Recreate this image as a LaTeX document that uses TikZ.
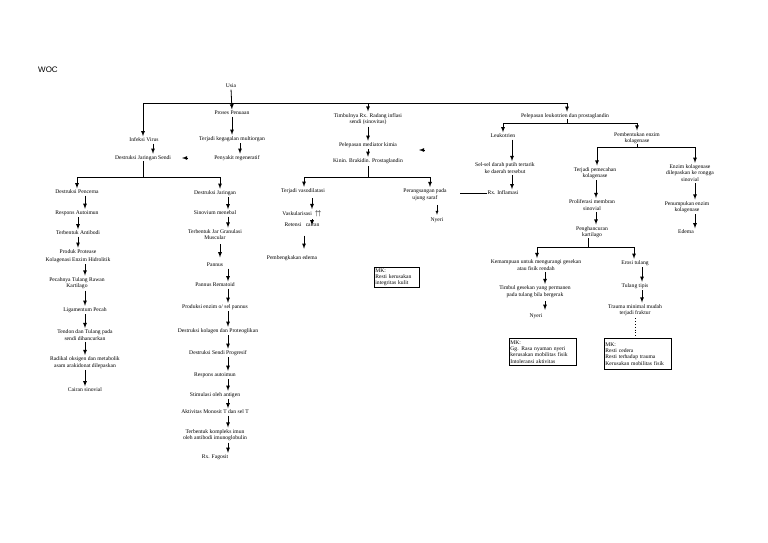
\documentclass[tikz,border=0pt]{standalone}
\usepackage{fontspec}
\setmainfont{Liberation Serif}
\setsansfont{Liberation Sans}
\usepackage{amssymb}
\usepackage{tikz}

\begin{document}
\begin{tikzpicture}[x=1pt,y=-1pt,
	lbl/.style={font=\fontsize{5.6}{6.5}\selectfont, align=center, inner sep=0.5pt},
	arr/.style={-latex, line width=0.8pt, shorten <=1pt, shorten >=1pt},
	bus/.style={line width=0.9pt},
	mkbox/.style={draw, line width=0.8pt, anchor=north west, align=left, inner sep=1pt, font=\fontsize{5.6}{6.4}\selectfont}]
			\fill[white] (0,0) rectangle (768,543);
			\useasboundingbox (0,0) rectangle (768,543);
			\node[font=\fontsize{8}{9}\selectfont\sffamily, anchor=west, inner sep=0] (woc) at (38,70) {WOC};
			% top
			\node[lbl] (usia) at (231,86) {Usia};
			\coordinate (busL) at (143,103);
			\coordinate (busR) at (567,103);
			\draw[bus] (busL) -- (busR);
			\node[lbl] (proses) at (232,113) {Proses Penuaan};
			\draw[arr] (usia.south) -- (proses.north);
			\node[lbl] (gagal) at (232,139) {Terjadi kegagalan multiorgan};
			\node[lbl] (degen) at (237,158) {Penyakit regeneratif};
			\node[lbl] (infeksi) at (144,140) {Infeksi Virus};
			\node[lbl] (dsendi) at (143,158) {Destruksi Jaringan Sendi};
			\coordinate (stubA) at (187,158);
			\coordinate (stubAend) at (182,158);
			\draw[-latex, line width=0.8pt] (stubA) -- (stubAend);
			\draw[arr, shorten <=0pt] (busL) -- (busL |- infeksi.north);
			\draw[arr] (proses.south) -- (gagal.north);
			\draw[arr] ([xshift=8pt]gagal.south) -- ([xshift=3pt]degen.north);
			\draw[arr] ([xshift=9pt]infeksi.south) -- ([xshift=10pt]dsendi.north);
			% kolom kiri
			\coordinate (busK1) at (77,177);
			\coordinate (busK2) at (220,177);
			\coordinate (c1a) at (78,0);
			\coordinate (c1b) at (85,0);
			\coordinate (c2a) at (220,0);
			\coordinate (c2b) at (228,0);
			\draw[bus] (dsendi.south) -- (dsendi.south |- busK1);
			\draw[bus] (busK1) -- (busK2);
			\node[lbl] (dpencerna) at (77,192) {Destruksi Pencerna};
			\node[lbl] (autoimun) at (77,213) {Respons Autoimun};
			\node[lbl] (antibodi) at (78,233) {Terbentuk Antibodi};
			\node[lbl] (protease) at (78,256) {Produk Protease\\[1.6pt]Kolagenasi Enzim Hidrolitik};
			\node[lbl] (pecah) at (77,283) {Pecahnya Tulang Rawan\\Kartilago};
			\node[lbl] (ligamen) at (85,310) {Ligamentum Pecah};
			\node[lbl] (tendon) at (85,335) {Tendon dan Tulang pada\\sendi dihancurkan};
			\node[lbl] (radikal) at (85,362.5) {Radikal oksigen dan metabolik\\asam arakidonat dilepaskan};
			\node[lbl] (cairan) at (85,390) {Cairan sinovial};
			\draw[arr, shorten <=0pt] (busK1) -- (busK1 |- dpencerna.north);
			\draw[arr] (dpencerna.south -| c1b) -- (autoimun.north -| c1b);
			\draw[arr] (autoimun.south -| c1a) -- (antibodi.north -| c1a);
			\draw[arr] (antibodi.south -| c1a) -- (protease.north -| c1a);
			\draw[arr] (protease.south -| c1b) -- (pecah.north -| c1b);
			\draw[arr] (pecah.south -| c1b) -- (ligamen.north -| c1b);
			\draw[arr] (ligamen.south -| c1b) -- (tendon.north -| c1b);
			\draw[arr] (tendon.south -| c1b) -- (radikal.north -| c1b);
			\draw[arr] (radikal.south -| c1b) -- (cairan.north -| c1b);
			% kolom kedua
			\node[lbl] (djaringan) at (215,193) {Destruksi Jaringan};
			\node[lbl] (sinovium) at (215,213) {Sinovium menebal};
			\node[lbl] (granulasi) at (215,234.5) {Terbentuk Jar Granulasi\\Muscular};
			\node[lbl] (pannus) at (215,265) {Pannus};
			\node[lbl] (rematoid) at (215,285) {Pannus Rematoid};
			\node[lbl] (produksi) at (215,307) {Produksi enzim o/ sel pannus};
			\node[lbl] (kolagen) at (218,331) {Destruksi kolagen dan Proteoglikan};
			\node[lbl] (progresif) at (218,353) {Destruksi Sendi Progresif};
			\node[lbl] (respons) at (215,375) {Respons autoimun};
			\node[lbl] (stimulasi) at (215,395) {Stimulasi oleh antigen};
			\node[lbl] (monosit) at (215,412) {Aktivitas Monosit T dan sel T};
			\node[lbl] (kompleks) at (215,435) {Terbentuk kompleks imun\\oleh antibodi imunoglobulin};
			\node[lbl] (fagosit) at (215,457) {Rx. Fagosit};
			\draw[arr, shorten <=0pt] (busK2) -- (busK2 |- djaringan.north);
			\draw[arr] (djaringan.south -| c2b) -- (sinovium.north -| c2b);
			\draw[arr] (sinovium.south -| c2b) -- (granulasi.north -| c2b);
			\draw[arr, shorten <=4pt, shorten >=5pt] (granulasi.south -| c2a) -- (pannus.north -| c2a);
			\draw[arr] (pannus.south -| c2b) -- (rematoid.north -| c2b);
			\draw[arr] (rematoid.south -| c2b) -- (produksi.north -| c2b);
			\draw[arr] (produksi.south -| c2b) -- (kolagen.north -| c2b);
			\draw[arr] (kolagen.south -| c2b) -- (progresif.north -| c2b);
			\draw[arr] (progresif.south -| c2b) -- (respons.north -| c2b);
			\draw[arr] (respons.south -| c2b) -- (stimulasi.north -| c2b);
			\draw[arr] (stimulasi.south -| c2b) -- (monosit.north -| c2b);
			\draw[arr] (monosit.south -| c2b) -- (kompleks.north -| c2b);
			\draw[arr] (kompleks.south -| c2b) -- (fagosit.north -| c2b);
			% tengah
			\node[lbl] (timbul) at (368,119) {Timbulnya Rx. Radang inflasi\\sendi (sinovitas)};
			\node[lbl] (mediator) at (368,145) {Pelepasan mediator kimia};
			\node[lbl] (kinin) at (368,161) {Kinin. Brakidin. Prostaglandin};
			\draw[arr, shorten <=0pt] (busL -| timbul) -- (timbul.north);
			\draw[arr] (timbul.south) -- (mediator.north);
			\draw[arr] (mediator.south) -- (kinin.north);
			\coordinate (stubB) at (424,150);
			\coordinate (stubBend) at (419,150);
			\draw[-latex, line width=0.8pt] (stubB) -- (stubBend);
			\coordinate (busT1) at (304,177);
			\coordinate (busT2) at (430,177);
			\draw[bus] ([yshift=-2pt]kinin.south) -- (kinin.south |- busT1);
			\draw[bus] (busT1) -- (busT2);
			\node[lbl] (vaso) at (303,191) {Terjadi vasodilatasi};
			\node[lbl] (vask) at (302,214) {Vaskularisasi~~\textit{\fontsize{7}{7}\selectfont$\uparrow\!\uparrow$}};
			\node[lbl] (retensi) at (302,225) {Retensi\hspace{3pt} cairan};
			\node[lbl] (edemaA) at (292,258) {Pembengkakan edema};
			\node[lbl] (saraf) at (425,194.5) {Perangsangan pada\\ujung saraf};
			\node[lbl] (nyeriA) at (437,220) {Nyeri};
			\coordinate (c3a) at (312,0);
			\coordinate (c3b) at (304,0);
			\draw[arr, shorten <=0pt] (busT1) -- (busT1 |- vaso.north);
			\draw[arr, shorten <=0pt] (busT2) -- (busT2 |- saraf.north);
			\draw[arr, shorten <=4pt] (vaso.south -| c3a) -- (vask.north -| c3a);
			\draw[arr, shorten >=-3pt] (vask.south -| c3a) -- (retensi.north -| c3a);
			\draw[arr, shorten <=8pt, shorten >=6pt] (retensi.south -| c3b) -- (edemaA.north -| c3b);
			\draw[-latex, thin, shorten <=4pt, shorten >=2pt] (saraf.south -| nyeriA) -- (nyeriA.north);
			\node[mkbox, text width=43pt, minimum height=19pt] (mkA) at (374,267) {MK:\\Resti kerusakan\\integritas kulit};
			% kanan
			\node[lbl] (pelepasan) at (565,116) {Pelepasan leukotrien dan prostaglandin};
			\draw[arr, shorten <=0pt] (busR) -- (busR |- pelepasan.north);
			\coordinate (busP1) at (503,123);
			\coordinate (busP2) at (637,123);
			\draw[bus] (busR |- pelepasan.south) -- (busR |- busP1);
			\draw[bus] (busP1) -- (busP2);
			\node[lbl] (leuko) at (503,136) {Leukotrien};
			\node[lbl] (enzim) at (637,138) {Pembentukan enzim\\kolagenase};
			\draw[arr, shorten <=0pt] (busP1) -- (busP1 |- leuko.north);
			\draw[arr, shorten <=0pt] (busP2) -- (busP2 |- enzim.north);
			\node[lbl] (sel) at (505,168) {Sel-sel darah putih tertarik\\ke daerah tersebut};
			\node[lbl] (rxinf) at (503,193) {Rx. Inflamasi};
			\coordinate (c4a) at (512,0);
			\draw[arr] (leuko.south -| c4a) -- (sel.north -| c4a);
			\draw[arr] (sel.south -| c4a) -- (rxinf.north -| c4a);
			\coordinate (inflL) at (460,193);
			\draw[bus] (inflL) -- (rxinf.west);
			\coordinate (busE1) at (597,147);
			\coordinate (busE2) at (695,147);
			\draw[line width=0.5pt] (enzim.south) -- (enzim.south |- busE1);
			\draw[line width=0.5pt] (busE1) -- (busE2);
			\node[lbl] (pemecahan) at (595,173) {Terjadi pemecahan\\kolagenase};
			\node[lbl] (dilepas) at (690,173) {Enzim kolagenase\\dilepaskan ke rongga\\sinovial};
			\node[lbl] (prolif) at (592,205) {Proliferasi membran\\sinovial};
			\node[lbl] (penumpukan) at (687,207) {Penumpukan enzim\\kolagenase};
			\node[lbl] (hancur) at (592,232) {Penghancuran\\kartilago};
			\node[lbl] (edemaB) at (686,232) {Edema};
			\draw[arr, shorten <=0pt] (busE1) -- (busE1 |- pemecahan.north);
			\draw[arr, shorten <=0pt] (busE2) -- (busE2 |- dilepas.north);
			\coordinate (c5a) at (596,0);
			\coordinate (c5b) at (695,0);
			\draw[arr] (pemecahan.south -| c5a) -- (prolif.north -| c5a);
			\draw[arr] (prolif.south -| c5a) -- (hancur.north -| c5a);
			\draw[arr] (dilepas.south -| c5b) -- (penumpukan.north -| c5b);
			\draw[arr] (penumpukan.south -| c5b) -- (edemaB.north -| c5b);
			\coordinate (busH1) at (537,247);
			\coordinate (busH2) at (634,247);
			\draw[bus] (hancur.south -| 588,0) -- (busH1 -| 588,0);
			\draw[bus] (busH1) -- (busH2);
			\node[lbl] (kemampuan) at (536,265) {Kemampuan untuk mengurangi gesekan\\atau fisik rendah};
			\node[lbl] (timbulG) at (535,291.5) {Timbul gesekan yang permanen\\pada tulang bila bergerak};
			\node[lbl] (nyeriB) at (536,316) {Nyeri};
			\node[lbl] (erosi) at (635,263) {Erosi tulang};
			\node[lbl] (tipis) at (635,286) {Tulang tipis};
			\node[lbl] (trauma) at (635,310) {Trauma minimal mudah\\terjadi fraktur};
			\draw[arr, shorten <=0pt] (busH1) -- (busH1 |- kemampuan.north);
			\draw[arr, shorten <=0pt] (busH2) -- (busH2 |- erosi.north);
			\coordinate (c6a) at (545,0);
			\coordinate (c6b) at (642,0);
			\draw[arr] (kemampuan.south -| c6a) -- (timbulG.north -| c6a);
			\draw[arr, shorten <=3pt, shorten >=3pt] (timbulG.south -| c6a) -- (nyeriB.north -| c6a);
			\draw[arr] (erosi.south -| c6b) -- (tipis.north -| c6b);
			\draw[arr] (tipis.south -| c6b) -- (trauma.north -| c6b);
			\node[mkbox, text width=65pt, minimum height=27pt] (mkB) at (509,338) {MK:\\Gg. Rasa nyaman nyeri\\kerusakan mobilitas fisik\\Intoleransi aktivitas};
			\node[mkbox, text width=65pt, minimum height=31pt] (mkC) at (604,338) {MK:\\Resti cedera\\Resti terhadap trauma\\Kerusakan mobilitas fisik};
			\draw[dotted, line width=0.8pt, shorten <=2pt, shorten >=2pt] (trauma.south) -- (trauma.south |- mkC.north);
		\end{tikzpicture}
\end{document}
